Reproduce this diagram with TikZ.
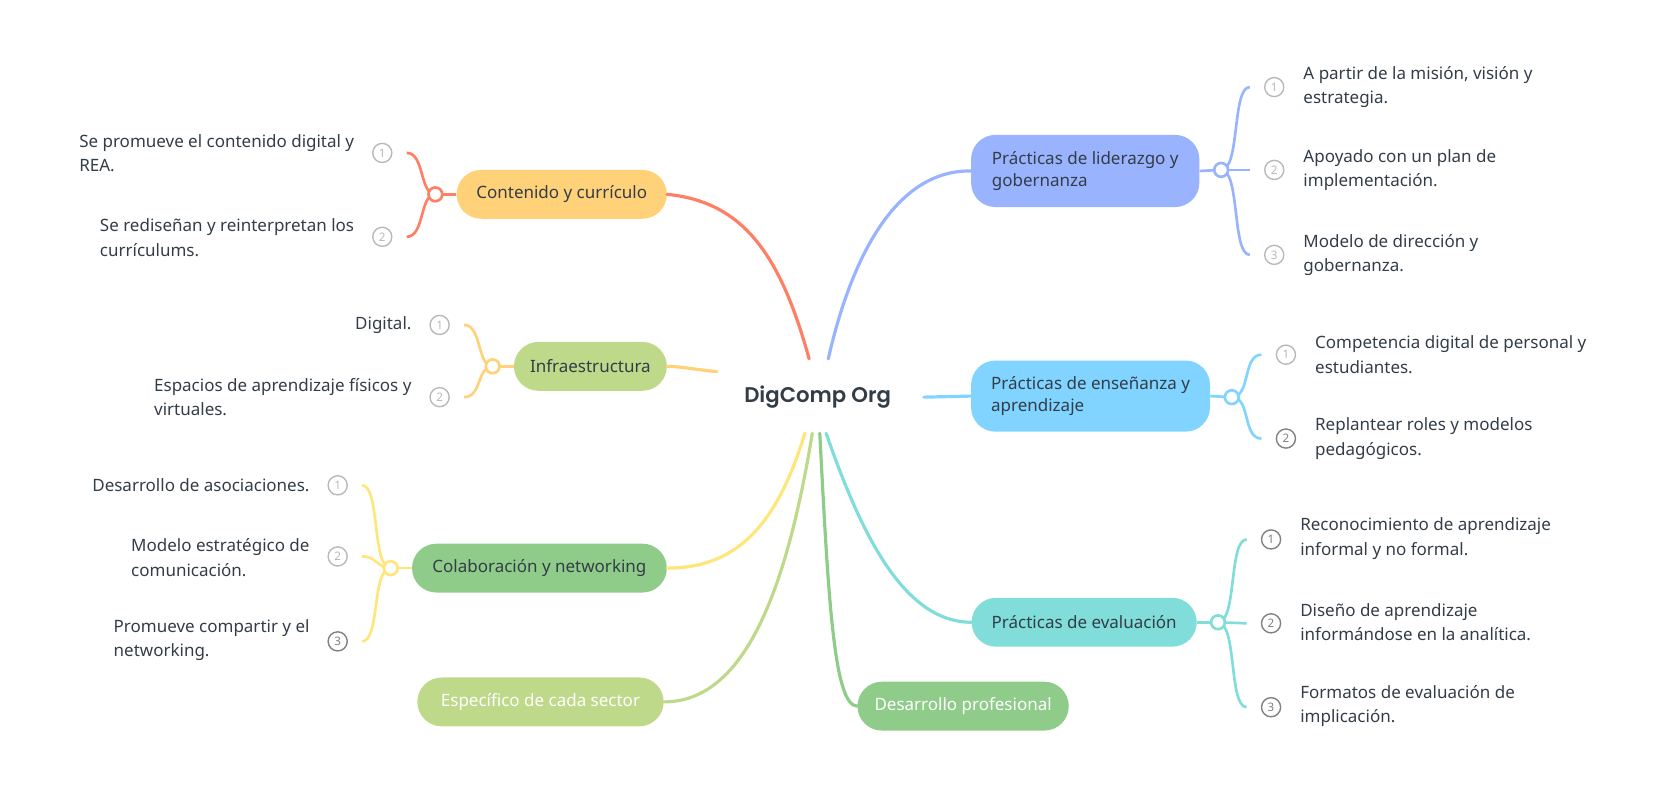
\documentclass[tikz,border=0pt]{standalone}
\usepackage{fontspec}
\setmainfont{Noto Sans}
\newfontfamily\popfont{Poppins}[BoldFont={* SemiBold}]
\definecolor{txt}{HTML}{333D47}
\definecolor{cRed}{HTML}{FF7F66}
\definecolor{cOr}{HTML}{FFD27A}
\definecolor{cYe}{HTML}{FFE57A}
\definecolor{cLg}{HTML}{BFD98A}
\definecolor{cGr}{HTML}{8FCC8A}
\definecolor{cBl}{HTML}{99B3FF}
\definecolor{cSk}{HTML}{80D4FF}
\definecolor{cTe}{HTML}{80DDD9}
\definecolor{cNum}{HTML}{B8B8B8}
\begin{document}
\begin{tikzpicture}[x=1pt,y=-1pt,
  topic/.style={rounded corners=23pt,minimum height=46pt,inner xsep=12pt,font=\fontsize{16}{21}\selectfont,text=txt,align=left},
  topicw/.style={topic,text=white},
  leafl/.style={anchor=east,align=left,font=\fontsize{16}{23}\selectfont,text=txt},
  leafr/.style={anchor=west,align=left,font=\fontsize{16}{23}\selectfont,text=txt},
  num/.style={circle,draw=cNum,line width=1.3pt,minimum size=18pt,inner sep=0pt,font=\fontsize{11}{11}\selectfont,text=cNum},
  hub/.style={circle,draw=#1,fill=white,line width=2.5pt,minimum size=13pt,inner sep=0pt},
  br/.style={draw=#1,line width=3pt,line cap=round},
  sb/.style={draw=#1,line width=2.5pt}]
\useasboundingbox (0,0) rectangle (1568,748);
\node[font=\popfont\fontsize{20}{24}\selectfont\bfseries,text=txt] (c) at (770,374) {DigComp Org};

% Left topics
\node[topic,fill=cOr,minimum width=198pt] (t1) at (529,183) {Contenido y currículo};
\node[topic,fill=cLg,minimum width=144pt] (t2) at (556,345) {Infraestructura};
\node[topic,fill=cGr,minimum width=240pt] (t3) at (508,535) {Colaboración y networking};
\node[topicw,fill=cLg,minimum width=232pt] (t4) at (509,661) {Específico de cada sector};
\node[topicw,fill=cGr,minimum width=199pt] (t5) at (907,665) {Desarrollo profesional};
% Right topics
\node[topic,fill=cBl,minimum width=215pt,minimum height=68pt] (t6) at (1022,161) {Prácticas de liderazgo y\\gobernanza};
\node[topic,fill=cSk,minimum width=225pt,minimum height=67pt] (t7) at (1027,373) {Prácticas de enseñanza y\\aprendizaje};
\node[topic,fill=cTe,minimum width=212pt] (t8) at (1021,586) {Prácticas de evaluación};

% main branches
\coordinate (s1) at (762,338); \coordinate (s2) at (675,350); \coordinate (s3) at (758,408);
\coordinate (s4) at (765,408); \coordinate (s5) at (772,408); \coordinate (s6) at (780,338);
\coordinate (s7) at (870,374); \coordinate (s8) at (778,408);
\draw[br=cRed] (s1) .. controls (735,240) and (700,190) .. (t1.east);
\draw[br=cOr] (s2) .. controls (655,348) and (640,345) .. (t2.east);
\draw[br=cYe] (s3) .. controls (730,500) and (690,535) .. (t3.east);
\draw[br=cLg] (s4) .. controls (740,560) and (700,661) .. (t4.east);
\draw[br=cGr] (s5) .. controls (780,560) and (785,665) .. (t5.west);
\draw[br=cBl] (s6) .. controls (800,250) and (840,160) .. (t6.west);
\draw[br=cSk] (s7) -- (t7.west);
\draw[br=cTe] (s8) .. controls (810,500) and (850,586) .. (t8.west);

% hubs
\coordinate (h1) at (410,183); \coordinate (h2) at (464,345); \coordinate (h3) at (368,535);
\coordinate (h6) at (1150,160); \coordinate (h7) at (1160,374); \coordinate (h8) at (1147,586);
\draw[sb=cRed] (t1.west) -- (h1); \draw[sb=cOr] (t2.west) -- (h2); \draw[sb=cYe] (t3.west) -- (h3);
\draw[sb=cBl] (t6.east) -- (h6); \draw[sb=cSk] (t7.east) -- (h7); \draw[sb=cTe] (t8.east) -- (h8);

% leaves left
\node[num] (n11) at (360,144) {1}; \node[num] (n12) at (360,223) {2};
\node[leafl] at (337,144) {Se promueve el contenido digital y\\REA.};
\node[leafl] at (337,224) {Se rediseñan y reinterpretan los\\currículums.};
\node[num] (n21) at (414,306) {1}; \node[num] (n22) at (414,374) {2};
\node[leafl] at (391,306) {Digital.};
\node[leafl] at (391,374) {Espacios de aprendizaje físicos y\\virtuales.};
\node[num] (n31) at (318,457) {1}; \node[num] (n32) at (318,524) {2};
\node[num,draw=gray,text=gray] (n33) at (318,604) {3};
\node[leafl] at (295,457) {Desarrollo de asociaciones.};
\node[leafl] at (295,525) {Modelo estratégico de\\comunicación.};
\node[leafl] at (295,603) {Promueve compartir y el\\networking.};
\draw[sb=cRed] (h1) .. controls (395,183) and (400,144) .. (383,144);
\draw[sb=cRed] (h1) .. controls (395,183) and (400,223) .. (383,223);
\draw[sb=cOr] (h2) .. controls (449,345) and (454,306) .. (437,306);
\draw[sb=cOr] (h2) .. controls (449,345) and (454,374) .. (437,374);
\draw[sb=cYe] (h3) .. controls (350,535) and (358,457) .. (341,457);
\draw[sb=cYe] (h3) .. controls (355,535) and (355,524) .. (341,524);
\draw[sb=cYe] (h3) .. controls (350,535) and (358,604) .. (341,604);

% leaves right
\node[num] (n61) at (1200,82) {1}; \node[num] (n62) at (1200,160) {2}; \node[num] (n63) at (1200,240) {3};
\node[leafr] at (1224,82) {A partir de la misión, visión y\\estrategia.};
\node[leafr] at (1224,160) {Apoyado con un plan de\\implementación.};
\node[leafr] at (1224,240) {Modelo de dirección y\\gobernanza.};
\node[num] (n71) at (1211,334) {1}; \node[num,draw=gray,text=gray] (n72) at (1211,413) {2};
\node[leafr] at (1235,334) {Competencia digital de personal y\\estudiantes.};
\node[leafr] at (1235,413) {Replantear roles y modelos\\pedagógicos.};
\node[num,draw=gray,text=gray] (n81) at (1197,508) {1}; \node[num,draw=gray,text=gray] (n82) at (1197,587) {2}; \node[num,draw=gray,text=gray] (n83) at (1197,666) {3};
\node[leafr] at (1221,507) {Reconocimiento de aprendizaje\\informal y no formal.};
\node[leafr] at (1221,586) {Diseño de aprendizaje\\informándose en la analítica.};
\node[leafr] at (1221,665) {Formatos de evaluación de\\implicación.};
\draw[sb=cBl] (h6) .. controls (1168,160) and (1160,82) .. (1177,82);
\draw[sb=cBl] (h6) -- (1177,160);
\draw[sb=cBl] (h6) .. controls (1168,160) and (1160,240) .. (1177,240);
\draw[sb=cSk] (h7) .. controls (1178,374) and (1170,334) .. (1188,334);
\draw[sb=cSk] (h7) .. controls (1178,374) and (1170,413) .. (1188,413);
\draw[sb=cTe] (h8) .. controls (1165,586) and (1157,508) .. (1174,508);
\draw[sb=cTe] (h8) -- (1174,587);
\draw[sb=cTe] (h8) .. controls (1165,586) and (1157,666) .. (1174,666);

\node[hub=cRed] (H1) at (h1) {}; \node[hub=cOr] (H2) at (h2) {}; \node[hub=cYe] (H3) at (h3) {};
\node[hub=cBl] (H6) at (h6) {}; \node[hub=cSk] (H7) at (h7) {}; \node[hub=cTe] (H8) at (h8) {};
\end{tikzpicture}
\end{document}
